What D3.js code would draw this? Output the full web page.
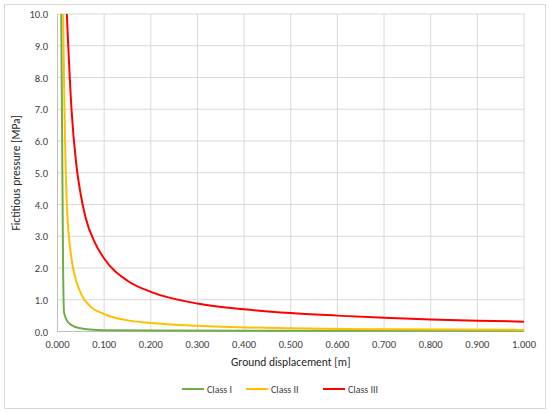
<!DOCTYPE html><html><head><script src="https://d3js.org/d3.v7.min.js"></script>
<style>body{margin:0;background:#fff}</style></head><body><svg id="c" width="550" height="413"></svg>
<script>
const classI_x=[0.008,0.01,0.012,0.014,0.02,0.03,0.05,0.07,0.1,0.2,0.5,1.0];
const classI_y=[10,6,2,0.6,0.35,0.2,0.1,0.06,0.04,0.03,0.025,0.02];
const classII_x=[0.012,0.015,0.02,0.03,0.05,0.07,0.1,0.15,0.2,0.3,0.5,0.7,1.0];
const classII_y=[10,7,4,2.3,1.2,0.8,0.55,0.35,0.27,0.18,0.1,0.07,0.05];
const classIII_x=[0.02,0.03,0.04,0.05,0.06,0.08,0.1,0.15,0.2,0.3,0.4,0.5,0.6,0.7,0.8,0.9,1.0];
const classIII_y=[10,7,5.3,4.3,3.6,2.8,2.3,1.6,1.25,0.88,0.7,0.58,0.5,0.43,0.38,0.34,0.31];
const seriesNames=["Class I","Class II","Class III"];
const colors=["#70ad47","#ffc000","#ff0000"];
const xTicks=d3.range(0,1.0001,0.1);
const yTicks=d3.range(0,10.0001,1);
const svg=d3.select("#c");
svg.append("rect").attr("x",4.5).attr("y",4.5).attr("width",541).attr("height",404).attr("fill","#fff").attr("stroke","#d9d9d9");
const x=d3.scaleLinear().domain([0,1]).range([57.5,524]);
const y=d3.scaleLinear().domain([0,10]).range([331.5,14]);
const font="Calibri, Carlito, 'Liberation Sans', sans-serif";
const g=svg.append("g");
g.selectAll(".vg").data(xTicks).join("line").attr("x1",d=>x(d)).attr("x2",d=>x(d)).attr("y1",y(0)).attr("y2",y(10)).attr("stroke","#d9d9d9");
g.selectAll(".hg").data(yTicks).join("line").attr("y1",d=>y(d)).attr("y2",d=>y(d)).attr("x1",x(0)).attr("x2",x(1)).attr("stroke","#d9d9d9");
g.append("line").attr("x1",x(0)).attr("x2",x(1)).attr("y1",y(0)).attr("y2",y(0)).attr("stroke","#bfbfbf");
g.append("line").attr("x1",x(0)).attr("x2",x(0)).attr("y1",y(0)).attr("y2",y(10)).attr("stroke","#bfbfbf");
g.selectAll(".xt").data(xTicks).join("text").attr("x",d=>x(d)).attr("y",348).attr("text-anchor","middle").attr("font-family",font).attr("font-size",10.5).attr("fill","#404040").text(d=>d.toFixed(3));
g.selectAll(".yt").data(yTicks).join("text").attr("x",48).attr("y",d=>y(d)+4).attr("text-anchor","end").attr("font-family",font).attr("font-size",10.5).attr("fill","#404040").text(d=>d.toFixed(1));
svg.append("text").attr("x",x(0.5)).attr("y",366).attr("text-anchor","middle").attr("font-family",font).attr("font-size",11.5).attr("fill","#262626").text("Ground displacement [m]");
svg.append("text").attr("transform",`translate(20,${y(5)}) rotate(-90)`).attr("text-anchor","middle").attr("font-family",font).attr("font-size",11.5).attr("fill","#262626").text("Fictitious pressure [MPa]");
const data=[[classI_x,classI_y],[classII_x,classII_y],[classIII_x,classIII_y]];
const line=d3.line().x(d=>x(d[0])).y(d=>y(d[1])).curve(d3.curveMonotoneX);
data.forEach(([xs,ys],i)=>{svg.append("path").attr("d",line(xs.map((v,j)=>[v,ys[j]]))).attr("fill","none").attr("stroke",colors[i]).attr("stroke-width",2);});
const lx=[182,246,323];
seriesNames.forEach((n,i)=>{svg.append("line").attr("x1",lx[i]).attr("x2",lx[i]+22).attr("y1",389).attr("y2",389).attr("stroke",colors[i]).attr("stroke-width",2);
svg.append("text").attr("x",lx[i]+25).attr("y",392.5).attr("font-family",font).attr("font-size",10).attr("fill","#404040").text(n);});
</script></body></html>
